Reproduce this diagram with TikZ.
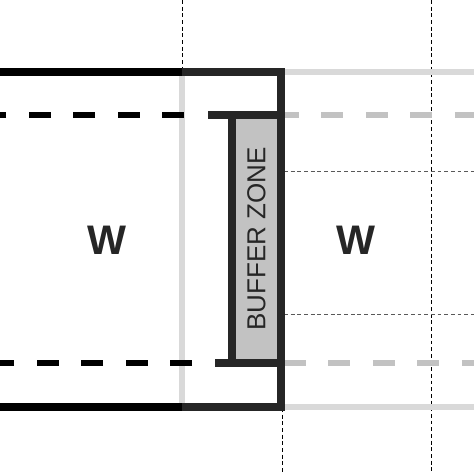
\documentclass[tikz,border=0pt]{standalone}
\usepackage{fontspec}
\setmainfont{Liberation Sans}
\usepackage{xcolor}
\usepackage{tikz}
\definecolor{darkwall}{gray}{0.15}
\definecolor{lightwall}{gray}{0.85}
\definecolor{ghostdash}{gray}{0.76}
\definecolor{bufferfill}{gray}{0.76}
\definecolor{gridline}{gray}{0.35}

\begin{document}
\begin{tikzpicture}[x=0.02cm, y=-0.02cm,
	wall/.style={line width=4pt},
	ghostwall/.style={line width=3.4pt, draw=lightwall},
	dashwall/.style={line width=3.8pt, dash pattern=on 0.44cm off 0.45cm},
	guide/.style={line width=0.5pt, dash pattern=on 2.2pt off 1.6pt},
	]
	
	\useasboundingbox (0,0) rectangle (474,474);
	
	% thin guides
	\draw[guide] (182,0) -- (182,72);
	\draw[guide] (431,0) -- (431,474);
	\draw[guide] (282,408) -- (282,474);
	\draw[guide, draw=gridline, line width=0.4pt] (284,171) -- (474,171);
	\draw[guide, draw=gridline, line width=0.4pt] (284,314) -- (474,314);
	
	% neighbouring module (light)
	\draw[ghostwall] (284,72) -- (474,72);
	\draw[ghostwall] (284,407) -- (474,407);
	\draw[ghostwall] (182,74) -- (182,405);
	\draw[dashwall, draw=ghostdash] (277,115) -- (474,115);
	\draw[dashwall, draw=ghostdash] (284,363) -- (474,363);
	
	% dashed lines left
	\draw[dashwall] (184,115) -- (0,115);
	\draw[dashwall] (192,363) -- (0,363);
	
	% module walls
	\draw[wall, draw=black] (0,72) -- (182,72);
	\draw[wall, draw=black] (0,407) -- (182,407);
	\draw[wall, draw=darkwall, line join=miter] (182,72) -- (281,72) -- (281,407) -- (182,407);
	
	% buffer zone
	\draw[wall, draw=darkwall] (208,115) -- (232,115);
	\draw[wall, draw=darkwall] (215,363) -- (232,363);
	\filldraw[fill=bufferfill, draw=darkwall, line width=4pt] (232,115) rectangle node[rotate=90, text=darkwall, font=\fontsize{14.8}{15}\selectfont] (buffer) {BUFFER ZONE} (281,363);
	
	\node[text=darkwall, font=\fontsize{23.5}{24}\selectfont\bfseries] (wleft) at (107,240) {W};
	\node[text=darkwall, font=\fontsize{23.5}{24}\selectfont\bfseries] (wright) at (356,240) {W};
	
\end{tikzpicture}
\end{document}
